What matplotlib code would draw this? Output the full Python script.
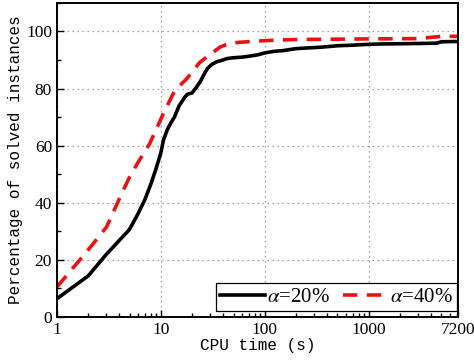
import matplotlib
matplotlib.use("Agg")
import matplotlib.pyplot as plt
from matplotlib.ticker import LogLocator, NullFormatter, FixedLocator, MultipleLocator

# Data
t_20 = [1, 2, 3, 5, 6, 7, 8, 9, 10, 10.6, 11.5, 12.5, 13.5, 15, 17, 18, 20, 22, 24,
        26.5, 28, 31, 35, 38, 43, 50, 60, 70, 85, 100, 120, 150, 200, 250, 350, 500,
        700, 1000, 1200, 2000, 3000, 4500, 5000, 7200]
p_20 = [6.4, 14.4, 22, 30.7, 36, 41, 46.5, 52, 57.5, 62, 65.5, 68, 70, 74, 77, 78, 78.5,
        80.5, 82.5, 85.5, 87, 88.5, 89.5, 89.8, 90.5, 90.8, 91, 91.3, 91.8, 92.5, 93,
        93.3, 94, 94.2, 94.5, 95, 95.2, 95.5, 95.6, 95.7, 95.8, 95.9, 96.4, 96.5]
t_40 = [1, 2, 3, 4.3, 5, 6, 7.8, 10.5, 13.6, 17.7, 23.7, 30, 37, 45, 57, 100, 200, 500,
        1000, 3000, 5000, 7200]
p_40 = [10.5, 23.5, 31.5, 44, 49, 54, 60.7, 71, 79.3, 83.4, 89.2, 92, 94.5, 95.8, 96.2,
        96.8, 97.2, 97.3, 97.4, 97.5, 98.3, 98.3]
labels = [r'$\alpha$=20%', r'$\alpha$=40%']
xticks = [1, 10, 100, 1000, 7200]
xticklabels = ['1', '10', '100', '1000', '7200']
yticks = [0, 20, 40, 60, 80, 100]

plt.rcParams['mathtext.fontset'] = 'stix'
fig = plt.figure(figsize=(4.74, 3.64), dpi=100)
ax = fig.add_axes([0.12, 0.129, 0.846, 0.863])

ax.plot(t_20, p_20, color='black', lw=2.6, solid_joinstyle='miter', label=labels[0])
ax.plot(t_40, p_40, color='#ee1111', lw=2.6, linestyle=(0, (4, 2.6)), label=labels[1])

ax.set_xscale('log')
ax.set_xlim(1, 7200)
ax.set_ylim(0, 110)
ax.xaxis.set_major_locator(FixedLocator(xticks))
ax.set_xticklabels(xticklabels)
ax.xaxis.set_minor_locator(LogLocator(base=10, subs=range(2, 10), numticks=20))
ax.xaxis.set_minor_formatter(NullFormatter())
ax.set_yticks(yticks)
ax.yaxis.set_minor_locator(MultipleLocator(10))

ax.tick_params(which='both', direction='in', labelsize=12.5, width=1.0)
ax.tick_params(which='major', length=5)
ax.tick_params(which='minor', length=3)
for lab in ax.get_xticklabels() + ax.get_yticklabels():
    lab.set_fontfamily('Liberation Serif')

ax.grid(True, which='major', linestyle=(0, (1, 3)), color='#888888', lw=0.9)
for s in ax.spines.values():
    s.set_linewidth(1.4)

ax.set_xlabel('CPU time (s)', fontfamily='Liberation Mono', fontsize=11.5, labelpad=0)
ax.set_ylabel('Percentage of solved instances', fontfamily='Liberation Mono',
              fontsize=11.5, labelpad=2)

leg = ax.legend(loc='lower right', bbox_to_anchor=(0.998, 0.018), ncol=2, frameon=True,
                fancybox=False, edgecolor='black', framealpha=1, handlelength=2.15,
                handletextpad=0.1, columnspacing=0.6, borderpad=0.22, borderaxespad=0.0,
                prop={'family': 'Liberation Serif', 'size': 15})
leg.get_frame().set_linewidth(0.9)

fig.savefig('out.png', dpi=100)
